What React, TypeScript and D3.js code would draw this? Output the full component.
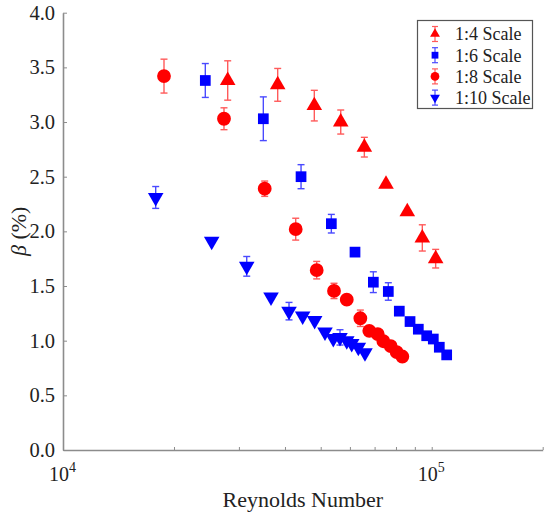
import { useEffect, useRef } from 'react';
import * as d3 from 'd3';

// 1:4 scale
const re4 = [27970, 38220, 48040, 56660, 65660, 75170, 85860, 94300, 102500];
const beta4 = [3.38, 3.34, 3.15, 3.0, 2.77, 2.43, 2.18, 1.94, 1.75];
const err4 = [0.18, 0.15, 0.14, 0.11, 0.09, 0, 0, 0.12, 0.085];

// 1:6 scale
const re6 = [24320, 34940, 44220, 53430, 61940, 69450, 76260, 81680, 87340, 91980, 96920, 101000, 104860, 109800];
const beta6 = [3.38, 3.03, 2.5, 2.07, 1.81, 1.535, 1.45, 1.27, 1.175, 1.105, 1.045, 1.015, 0.94, 0.87];
const err6 = [0.155, 0.2, 0.11, 0.085, 0, 0.095, 0.08, 0, 0, 0, 0, 0, 0, 0];

// 1:8 scale
const re8 = [18790, 27330, 35240, 42770, 48760, 54330, 58830, 64040, 67720, 71390, 73940, 77420, 80360, 83240];
const beta8 = [3.42, 3.03, 2.39, 2.02, 1.645, 1.455, 1.375, 1.205, 1.09, 1.06, 0.995, 0.95, 0.895, 0.855];
const err8 = [0.155, 0.1, 0.07, 0.1, 0.08, 0.07, 0, 0.075, 0, 0, 0, 0, 0, 0];

// 1:10 scale
const re10 = [17840, 25310, 31500, 36660, 41020, 44670, 48150, 51350, 54090, 56400, 58830, 60680, 63240, 65920];
const beta10 = [2.31, 1.91, 1.68, 1.4, 1.27, 1.225, 1.185, 1.08, 1.02, 1.03, 1.0, 0.975, 0.94, 0.89];
const err10 = [0.1, 0, 0.09, 0, 0.08, 0, 0, 0, 0, 0.07, 0, 0, 0, 0];

const seriesNames = ['1:4 Scale', '1:6 Scale', '1:8 Scale', '1:10 Scale'];
const yTicks = [0, 0.5, 1, 1.5, 2, 2.5, 3, 3.5, 4];
const xMinorTicks = [1e4, 2e4, 3e4, 4e4, 5e4, 6e4, 7e4, 8e4, 9e4, 1e5, 2e5];
const xLabelTicks = [1e4, 1e5];

const FONT = "'Liberation Serif'";

export default function App() {
    const ref = useRef<SVGSVGElement>(null);

    useEffect(() => {
        if (!ref.current) return;
        const svg = d3.select(ref.current);
        svg.selectAll('*').remove();

        const width = 550, height = 518;
        const x = d3.scaleLog().domain([1e4, 2e5]).range([63, 542.7]);
        const y = d3.scaleLinear().domain([0, 4]).range([450, 12.7]);

        svg.attr('width', width).attr('height', height).style('font-family', FONT);
        svg.append('rect').attr('width', width).attr('height', height).attr('fill', '#fff');

        const axisColor = '#8c8c8c';

        // y axis
        const yAxis = svg.append('g')
            .attr('transform', `translate(${x.range()[0]},0)`)
            .call(d3.axisLeft(y).tickValues(yTicks).tickFormat(d3.format('.1f')).tickSize(-4).tickSizeOuter(0).tickPadding(8));
        yAxis.attr('font-family', null);
        yAxis.select('.domain').attr('stroke', axisColor).attr('stroke-width', 1.6);
        yAxis.selectAll('.tick line').attr('stroke', axisColor).attr('stroke-width', 1);
        yAxis.selectAll('.tick text')
            .attr('fill', '#222')
            .style('font-family', FONT)
            .style('font-size', '20.5px');

        // x axis
        const xAxis = svg.append('g')
            .attr('transform', `translate(0,${y.range()[0]})`)
            .call(d3.axisBottom(x).tickValues(xMinorTicks).tickFormat(() => '').tickSize(-3).tickSizeOuter(0));
        xAxis.select('.domain').attr('stroke', axisColor).attr('stroke-width', 1.6);
        xAxis.selectAll('.tick line').attr('stroke', axisColor).attr('stroke-width', 1);

        const xl = svg.append('g').selectAll('text')
            .data(xLabelTicks)
            .enter()
            .append('text')
            .attr('x', d => x(d) - 14)
            .attr('y', 481)
            .attr('text-anchor', 'start')
            .style('font-family', FONT)
            .style('font-size', '20px')
            .attr('fill', '#222');
        xl.append('tspan').text('10');
        xl.append('tspan')
            .attr('dy', -9)
            .style('font-size', '14px')
            .text(d => String(Math.round(Math.log10(d))));

        // axis titles
        svg.append('text')
            .attr('x', (x.range()[0] + x.range()[1]) / 2)
            .attr('y', 507)
            .attr('text-anchor', 'middle')
            .style('font-family', FONT)
            .style('font-size', '22px')
            .attr('fill', '#222')
            .text('Reynolds Number');

        const yt = svg.append('text')
            .attr('transform', `translate(26,${(y.range()[0] + y.range()[1]) / 2}) rotate(-90)`)
            .attr('text-anchor', 'middle')
            .style('font-family', FONT)
            .style('font-size', '22px')
            .attr('fill', '#222');
        yt.append('tspan').style('font-style', 'italic').text('β');
        yt.append('tspan').text(' (%)');

        const series = [
            { name: seriesNames[0], re: re4, beta: beta4, err: err4, color: '#ff0000', errColor: '#ff5a5a', symbol: d3.symbolTriangle, size: 105, rot: 0 },
            { name: seriesNames[1], re: re6, beta: beta6, err: err6, color: '#0000ff', errColor: '#4a4aff', symbol: d3.symbolSquare, size: 115, rot: 0 },
            { name: seriesNames[2], re: re8, beta: beta8, err: err8, color: '#ff0000', errColor: '#ff5a5a', symbol: d3.symbolCircle, size: 150, rot: 0 },
            { name: seriesNames[3], re: re10, beta: beta10, err: err10, color: '#0000ff', errColor: '#4a4aff', symbol: d3.symbolTriangle, size: 105, rot: 180 },
        ];

        const plot = svg.append('g');
        const cap = 3.5;

        series.forEach(s => {
            const pts = s.re.map((r, i) => ({ r, b: s.beta[i], e: s.err[i] }));
            const eb = plot.append('g')
                .attr('stroke', s.errColor)
                .attr('stroke-width', 1.4)
                .selectAll('g')
                .data(pts.filter(p => p.e > 0))
                .enter()
                .append('g');
            eb.append('line')
                .attr('x1', p => x(p.r)).attr('x2', p => x(p.r))
                .attr('y1', p => y(p.b - p.e)).attr('y2', p => y(p.b + p.e));
            eb.append('line')
                .attr('x1', p => x(p.r) - cap).attr('x2', p => x(p.r) + cap)
                .attr('y1', p => y(p.b + p.e)).attr('y2', p => y(p.b + p.e));
            eb.append('line')
                .attr('x1', p => x(p.r) - cap).attr('x2', p => x(p.r) + cap)
                .attr('y1', p => y(p.b - p.e)).attr('y2', p => y(p.b - p.e));

            plot.append('g')
                .selectAll('path')
                .data(pts)
                .enter()
                .append('path')
                .attr('d', d3.symbol().type(s.symbol).size(s.size)())
                .attr('transform', p => `translate(${x(p.r)},${y(p.b)}) rotate(${s.rot})`)
                .attr('fill', s.color);
        });

        // legend
        const lg = svg.append('g');
        lg.append('rect')
            .attr('x', 417.5).attr('y', 20.5)
            .attr('width', 115).attr('height', 88)
            .attr('fill', '#fff')
            .attr('stroke', '#555')
            .attr('stroke-width', 1.2);

        series.forEach((s, i) => {
            const cy = 34 + i * 21.2;
            const cx = 435;
            const g = lg.append('g').attr('stroke', s.errColor).attr('stroke-width', 1.2);
            g.append('line').attr('x1', cx).attr('x2', cx).attr('y1', cy - 7.5).attr('y2', cy + 7.5);
            g.append('line').attr('x1', cx - 3).attr('x2', cx + 3).attr('y1', cy - 7.5).attr('y2', cy - 7.5);
            g.append('line').attr('x1', cx - 3).attr('x2', cx + 3).attr('y1', cy + 7.5).attr('y2', cy + 7.5);
            lg.append('path')
                .attr('d', d3.symbol().type(s.symbol).size(s.size * 0.4)())
                .attr('transform', `translate(${cx},${cy}) rotate(${s.rot})`)
                .attr('fill', s.color);
            lg.append('text')
                .attr('x', 455)
                .attr('y', cy)
                .attr('dy', '0.35em')
                .style('font-family', FONT)
                .style('font-size', '18px')
                .attr('fill', '#222')
                .text(s.name);
        });
    }, []);

    return (
        <div style={{ position: 'absolute', left: 0, top: 0 }}>
            <svg ref={ref} style={{ display: 'block' }} />
        </div>
    );
}
